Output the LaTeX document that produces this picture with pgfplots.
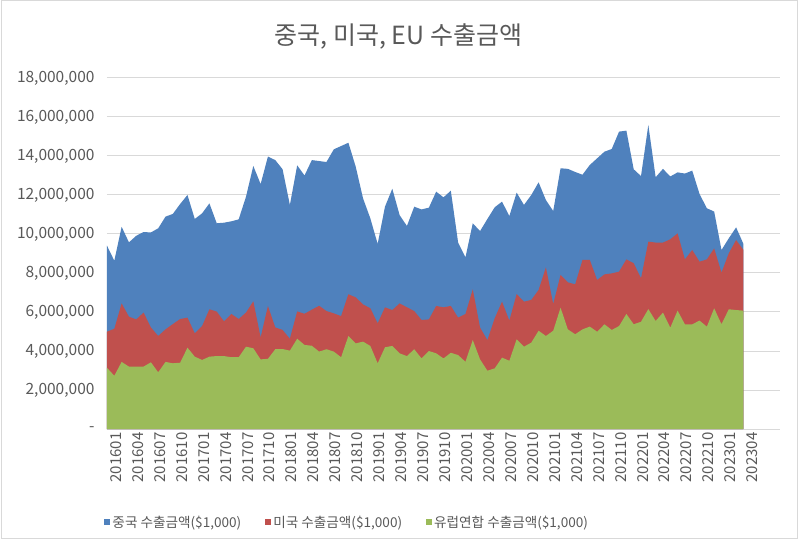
\documentclass[border=0pt]{standalone}
\usepackage{fontspec}
\setmainfont{Noto Sans CJK KR}
\usepackage{pgfplots}
\usepackage{pgfplotstable}
\pgfplotsset{compat=1.18}
\definecolor{cnblue}{RGB}{79,129,189}
\definecolor{usred}{RGB}{192,80,77}
\definecolor{eugreen}{RGB}{155,187,89}
\definecolor{gridgray}{RGB}{217,217,217}
\definecolor{txtgray}{RGB}{89,89,89}

\pgfplotstableread{
i val
0 9400000
1 8630000
2 10370000
3 9570000
4 9910000
5 10100000
6 10080000
7 10290000
8 10890000
9 11030000
10 11540000
11 12000000
12 10770000
13 11060000
14 11570000
15 10550000
16 10580000
17 10650000
18 10750000
19 11910000
20 13490000
21 12560000
22 13970000
23 13790000
24 13320000
25 11490000
26 13520000
27 13000000
28 13790000
29 13740000
30 13690000
31 14340000
32 14510000
33 14680000
34 13450000
35 11830000
36 10800000
37 9490000
38 11400000
39 12320000
40 10970000
41 10410000
42 11400000
43 11260000
44 11350000
45 12170000
46 11880000
47 12220000
48 9560000
49 8800000
50 10550000
51 10150000
52 10770000
53 11370000
54 11660000
55 10920000
56 12120000
57 11490000
58 12000000
59 12650000
60 11740000
61 11180000
62 13370000
63 13340000
64 13180000
65 13040000
66 13540000
67 13880000
68 14220000
69 14360000
70 15250000
71 15300000
72 13320000
73 12970000
74 15590000
75 12910000
76 13340000
77 12950000
78 13160000
79 13100000
80 13250000
81 12050000
82 11320000
83 11150000
84 9180000
85 9780000
86 10340000
87 9490000
}\china

\pgfplotstableread{
i val
0 4990000
1 5140000
2 6440000
3 5760000
4 5620000
5 5970000
6 5210000
7 4770000
8 5110000
9 5380000
10 5640000
11 5710000
12 4910000
13 5280000
14 6140000
15 6020000
16 5520000
17 5900000
18 5640000
19 5970000
20 6550000
21 4700000
22 6310000
23 5210000
24 5080000
25 4630000
26 6030000
27 5910000
28 6120000
29 6320000
30 6050000
31 5930000
32 5790000
33 6910000
34 6750000
35 6390000
36 6190000
37 5420000
38 6240000
39 6100000
40 6440000
41 6240000
42 6050000
43 5590000
44 5620000
45 6310000
46 6240000
47 6310000
48 5710000
49 5900000
50 7160000
51 5200000
52 4560000
53 5680000
54 6530000
55 5560000
56 6920000
57 6530000
58 6620000
59 7130000
60 8290000
61 6410000
62 7900000
63 7520000
64 7420000
65 8670000
66 8670000
67 7640000
68 7930000
69 7980000
70 8070000
71 8700000
72 8500000
73 7730000
74 9610000
75 9560000
76 9560000
77 9730000
78 10030000
79 8700000
80 9180000
81 8580000
82 8700000
83 9260000
84 8020000
85 9010000
86 9690000
87 9180000
}\usa

\pgfplotstableread{
i val
0 3140000
1 2730000
2 3440000
3 3200000
4 3200000
5 3200000
6 3420000
7 2910000
8 3440000
9 3370000
10 3400000
11 4170000
12 3710000
13 3540000
14 3710000
15 3740000
16 3740000
17 3680000
18 3680000
19 4220000
20 4140000
21 3570000
22 3600000
23 4090000
24 4100000
25 4020000
26 4630000
27 4310000
28 4270000
29 3970000
30 4090000
31 3970000
32 3680000
33 4770000
34 4390000
35 4480000
36 4260000
37 3370000
38 4190000
39 4260000
40 3880000
41 3740000
42 4090000
43 3620000
44 4000000
45 3880000
46 3620000
47 3910000
48 3790000
49 3450000
50 4560000
51 3570000
52 2990000
53 3110000
54 3660000
55 3500000
56 4600000
57 4220000
58 4430000
59 5040000
60 4770000
61 5040000
62 6220000
63 5110000
64 4860000
65 5110000
66 5250000
67 4990000
68 5370000
69 5080000
70 5280000
71 5900000
72 5370000
73 5500000
74 6150000
75 5540000
76 5970000
77 5200000
78 6070000
79 5370000
80 5370000
81 5560000
82 5250000
83 6190000
84 5370000
85 6140000
86 6100000
87 6070000
}\eu

\begin{document}
\begin{tikzpicture}
\useasboundingbox (0pt,0pt) rectangle (800pt,541pt);
\fill[white] (0pt,0pt) rectangle (800pt,541pt);
\draw[gridgray, line width=1pt] (1pt,3pt) rectangle (797pt,540pt);
\node[text=txtgray, font=\fontsize{25}{27}\selectfont] at (398.5pt,505pt) {중국, 미국, EU 수출금액};
\begin{axis}[
  at={(107pt,112pt)}, anchor=south west,
  scale only axis, width=673pt, height=351pt,
  xmin=0, xmax=92, ymin=0, ymax=18000000,
  scaled y ticks=false,
  axis x line*=bottom, axis y line*=left,
  x axis line style={draw=gridgray, line width=1pt, -},
  y axis line style={draw=none},
  major tick length=0pt,
  ymajorgrids, grid style={draw=gridgray, line width=1pt},
  ytick={0,2000000,4000000,6000000,8000000,10000000,12000000,14000000,16000000,18000000},
  yticklabels={{-},{2,000,000},{4,000,000},{6,000,000},{8,000,000},{10,000,000},{12,000,000},{14,000,000},{16,000,000},{18,000,000}},
  xtick={0,3,...,87},
  xticklabels={201601,201604,201607,201610,201701,201704,201707,201710,201801,201804,201807,201810,201901,201904,201907,201910,202001,202004,202007,202010,202101,202104,202107,202110,202201,202204,202207,202210,202301,202304},
  yticklabel style={text=txtgray, font=\fontsize{15.5}{16}\selectfont, xshift=-9pt},
  xticklabel style={text=txtgray, font=\fontsize{15}{15}\selectfont, rotate=90, anchor=east, yshift=-9pt},
  legend style={at={(axis description cs:0.357,-0.266)}, anchor=center, draw=none, fill=none,
    legend columns=3, font=\fontsize{13.6}{14}\selectfont, text=txtgray,
    /tikz/every even column/.append style={column sep=22pt}},
  legend image code/.code={\fill[#1] (0pt,-3pt) rectangle (6pt,3pt);},
]
\addplot[fill=cnblue, draw=none] table[x=i,y=val] {\china} \closedcycle;
\addlegendentry{중국 수출금액(\$1,000)}
\addplot[fill=usred, draw=none] table[x=i,y=val] {\usa} \closedcycle;
\addlegendentry{미국 수출금액(\$1,000)}
\addplot[fill=eugreen, draw=none] table[x=i,y=val] {\eu} \closedcycle;
\addlegendentry{유럽연합 수출금액(\$1,000)}
\end{axis}
\end{tikzpicture}
\end{document}
